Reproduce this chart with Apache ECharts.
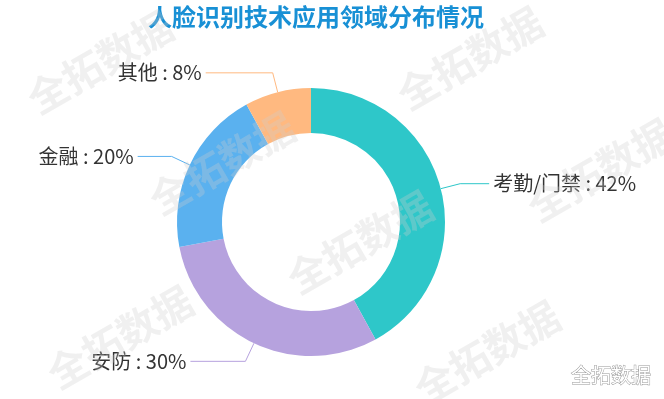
<!DOCTYPE html>
<html>
<head>
<meta charset="utf-8">
<script src="https://cdn.jsdelivr.net/npm/echarts@6/dist/echarts.min.js"></script>
<style>
  html, body { margin: 0; padding: 0; background: #fff; }
  #chart { width: 664px; height: 399px; }
</style>
</head>
<body>
<div id="chart"></div>
<script>
const categories = ['考勤/门禁', '安防', '金融', '其他'];
const values = [42, 30, 20, 8];
const colors = ['#2ec7c9', '#b6a2de', '#5ab1ef', '#ffb980'];
// second label-line segment per slice
const lineLength2 = [29, 55, 34, 67];

// watermark spots
const marks = [[100, 62], [470, 58], [600, 170], [222, 163], [360, 242], [120, 337], [487, 352]];

const chart = echarts.init(document.getElementById('chart'));

const watermarks = marks.map(([x, y]) => ({
  type: 'text',
  x: x,
  y: y,
  rotation: Math.PI / 6,
  z: 100,
  silent: true,
  style: {
    text: '全拓数据',
    fontSize: 40,
    fontWeight: 'bold',
    fontFamily: 'Noto Sans CJK SC',
    fill: 'rgba(205,205,205,0.3)',
    align: 'center',
    verticalAlign: 'middle'
  }
}));

chart.setOption({
  backgroundColor: '#fff',
  color: colors,
  title: {
    text: '人脸识别技术应用领域分布情况',
    left: 143,
    top: 0,
    textStyle: {
      color: '#1890d5',
      fontSize: 24,
      fontWeight: 'bold',
      fontFamily: 'Noto Sans CJK SC'
    }
  },
  graphic: watermarks.concat([{
    type: 'text',
    x: 611,
    y: 375,
    z: 100,
    style: {
      text: '全拓数据',
      fontSize: 20,
      fontFamily: 'Noto Sans CJK SC',
      fill: '#fff',
      stroke: '#999',
      lineWidth: 1,
      align: 'center',
      verticalAlign: 'middle'
    }
  }]),
  series: [{
    type: 'pie',
    center: [311, 222],
    radius: [89, 134],
    startAngle: 90,
    clockwise: true,
    avoidLabelOverlap: false,
    label: {
      formatter: '{b} : {d}%',
      color: '#333',
      fontSize: 20,
      fontFamily: 'Noto Sans CJK SC',
      distanceToLabelLine: 4
    },
    labelLine: {
      length: 20,
      lineStyle: { width: 1 }
    },
    data: categories.map((name, i) => ({
      name: name,
      value: values[i],
      labelLine: { length2: lineLength2[i] }
    }))
  }]
});
</script>
</body>
</html>
